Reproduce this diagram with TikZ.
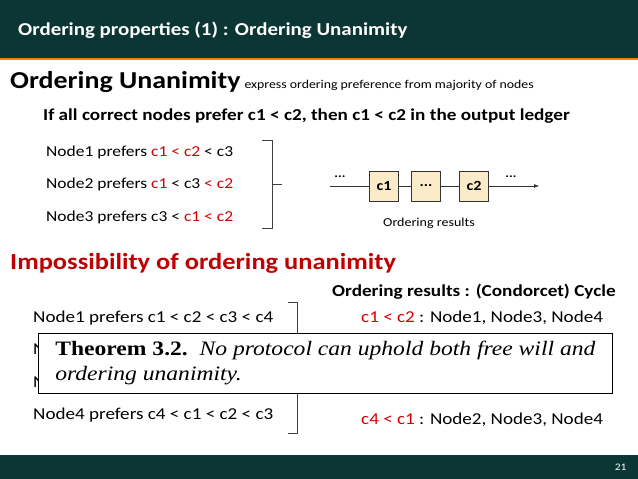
\documentclass[tikz,border=0pt]{standalone}
\usepackage{fontspec}
\setmainfont{Carlito}[FakeStretch=1.15]
\newfontfamily\thmfont{Liberation Serif}[FakeStretch=1.15]
\usetikzlibrary{arrows.meta}
\definecolor{hdr}{HTML}{0B3633}
\definecolor{ored}{HTML}{C00000}
\definecolor{boxf}{HTML}{FCEBC8}
\definecolor{myred}{HTML}{D00000}
\begin{document}
\begin{tikzpicture}[x=1pt,y=-1pt,
  txt/.style={anchor=west,inner sep=0pt,font=\fontsize{15.2}{18}\selectfont},
  rtxt/.style={anchor=west,inner sep=0pt,font=\fontsize{16.6}{19}\selectfont},
  cbox/.style={draw=black!80,fill=boxf,minimum width=29pt,minimum height=30pt,font=\bfseries\fontsize{14}{16}\selectfont,inner sep=0pt}]
\useasboundingbox (0,0) rectangle (638,479);
\fill[hdr] (0,0) rectangle (638,58);
\draw[orange!80!brown,line width=1.2pt] (0,59) -- (638,59);
\fill[hdr] (0,455) rectangle (638,479);
\node[anchor=east,text=white,font=\fontsize{10}{12}\selectfont] (pg) at (630,467) {21};
\node[anchor=west,inner sep=0pt,text=white,font=\bfseries\fontsize{18.2}{20}\selectfont] (title) at (18,30) {Ordering properties (1) : Ordering Unanimity};
\node[anchor=base west,inner sep=0pt] (ou) at (10,88) {\bfseries\fontsize{24.3}{28}\selectfont Ordering Unanimity\,\mdseries\fontsize{12}{13}\selectfont express ordering preference from majority of nodes};
\node[anchor=west,inner sep=0pt,font=\bfseries\fontsize{16.7}{18}\selectfont] (rule) at (43,116) {If all correct nodes prefer c1 < c2, then c1 < c2 in the output ledger};
\node[txt] (p1) at (46,152) {Node1 prefers \textcolor{myred}{c1 < c2} < c3};
\node[txt] (p2) at (46,184) {Node2 prefers \textcolor{myred}{c1} < c3 \textcolor{myred}{< c2}};
\node[txt] (p3) at (46,217) {Node3 prefers c3 < \textcolor{myred}{c1 < c2}};
\draw[black!75,line width=0.8pt] (262,140) -- (272,140) -- (272,228) -- (262,228);
\draw[black!75,line width=0.8pt] (272,184) -- (282,184);
\node[cbox] (c1) at (384,186) {c1};
\node[cbox] (cd) at (426,186) {...};
\node[cbox] (c2) at (474,186) {c2};
\coordinate (ls) at (330,186);
\coordinate (le) at (539,186);
\node[font=\bfseries\fontsize{12}{12}\selectfont] (d1) at (340,177) {...};
\node[font=\bfseries\fontsize{12}{12}\selectfont] (d2) at (511,177) {...};
\draw[black!80] (ls) -- (c1) (c1) -- (cd) (cd) -- (c2);
\draw[black!80,-{Latex[length=5pt]}] (c2) -- (le);
\node[font=\fontsize{12.2}{13}\selectfont] (orr) at (429,223) {Ordering results};
\node[anchor=west,inner sep=0pt,text=ored,font=\bfseries\fontsize{23}{26}\selectfont] (imp) at (10,263) {Impossibility of ordering unanimity};
\node[anchor=west,inner sep=0pt,font=\bfseries\fontsize{16.7}{18}\selectfont] (oc) at (332,292) {Ordering results : (Condorcet) Cycle};
\node[rtxt] (q1) at (33,318) {Node1 prefers c1 < c2 < c3 < c4};
\node[rtxt] (q2) at (33,350) {Node2 prefers c2 < c3 < c4 < c1};
\node[rtxt] (q3) at (33,383) {Node3 prefers c3 < c4 < c1 < c2};
\node[rtxt] (q4) at (33,415) {Node4 prefers c4 < c1 < c2 < c3};
\draw[black!75,line width=0.8pt] (288,302) -- (297,302) -- (297,433) -- (288,433);
\node[rtxt] (r1) at (361,318) {\textcolor{myred}{c1 < c2} : Node1, Node3, Node4};
\node[rtxt] (r2) at (361,350) {\textcolor{myred}{c2 < c3} : Node1, Node2, Node4};
\node[rtxt] (r3) at (361,383) {\textcolor{myred}{c3 < c4} : Node1, Node2, Node3};
\node[rtxt] (r4) at (361,420) {\textcolor{myred}{c4 < c1} : Node2, Node3, Node4};
\node[draw=black,fill=white,line width=0.8pt,anchor=north west,minimum width=574pt,minimum height=60pt,inner sep=3pt,align=left,font=\thmfont\fontsize{20.5}{25}\selectfont] (thm) at (38,333)
 {\textbf{Theorem 3.2.}\ \ \textit{No protocol can uphold both free will and}\\\textit{ordering unanimity.}};
\end{tikzpicture}
\end{document}
